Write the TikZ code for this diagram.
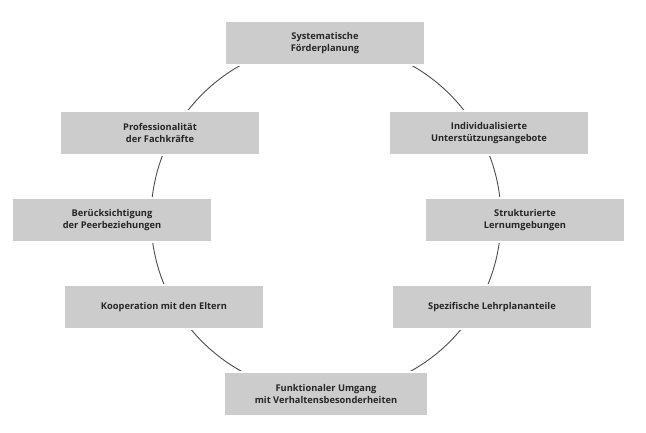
\documentclass[tikz,border=0pt]{standalone}
\usepackage{fontspec}
\setmainfont{Open Sans}
\usetikzlibrary{shadows}
\begin{document}
\begin{tikzpicture}[x=1pt,y=-1pt,
 box/.style={fill=black!20,draw=white,line width=2.5pt,minimum width=200pt,minimum height=44pt,align=center,font=\bfseries\fontsize{9.3}{12}\selectfont,text=black!85,drop shadow={shadow xshift=0pt,shadow yshift=0pt,opacity=0.35,fill=black!50}}]
\useasboundingbox (0,0) rectangle (646,432);
\draw[black!70,line width=0.9pt] (326,218) circle (175);
\node[box] (a) at (325,43) {Systematische\\Förderplanung};
\node[box] (b) at (160,133) {Professionalität\\der Fachkräfte};
\node[box] (c) at (489,133) {Individualisierte\\Unterstützungsangebote};
\node[box] (d) at (112,220) {Berücksichtigung\\der Peerbeziehungen};
\node[box] (e) at (525,220) {Strukturierte\\Lernumgebungen};
\node[box] (f) at (164,307) {Kooperation mit den Eltern};
\node[box] (g) at (492,307) {Spezifische Lehrplananteile};
\node[box,minimum width=204pt] (h) at (326,394) {Funktionaler Umgang\\mit Verhaltensbesonderheiten};
\end{tikzpicture}
\end{document}
